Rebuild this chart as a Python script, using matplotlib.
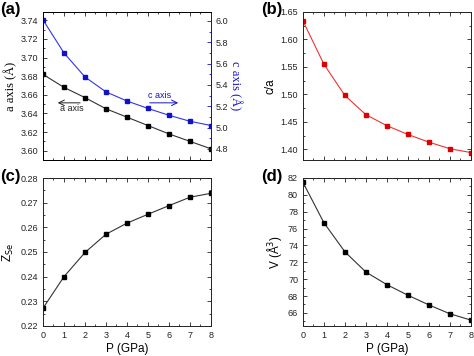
import numpy as np
import matplotlib
matplotlib.use('Agg')
from matplotlib import pyplot as plt
from matplotlib.ticker import MultipleLocator

# pressure points (GPa)
P = [0, 1, 2, 3, 4, 5, 6, 7, 8]
#lattice constants (A)
a_axis = [3.682, 3.668, 3.657, 3.645, 3.636, 3.627, 3.618, 3.610, 3.602]
c_axis = [6.01, 5.70, 5.475, 5.335, 5.25, 5.18, 5.116, 5.06, 5.02]
c_over_a = [1.634, 1.555, 1.498, 1.463, 1.443, 1.427, 1.413, 1.401, 1.394]
z_se = [0.2272, 0.2400, 0.2498, 0.2572, 0.2617, 0.2653, 0.2688, 0.2722, 0.2738]
volume = [81.5, 76.7, 73.25, 70.85, 69.35, 68.1, 66.95, 65.9, 65.15]

plt.rcParams['font.family'] = ['Liberation Sans', 'DejaVu Sans']
TICK = 6.5
LINE = '#333333'


def style(ax, ymaj, ymin, xlabels=True):
    ax.set_xlim(0, 8)
    ax.xaxis.set_major_locator(MultipleLocator(1))
    ax.xaxis.set_minor_locator(MultipleLocator(0.5))
    ax.yaxis.set_major_locator(MultipleLocator(ymaj))
    ax.yaxis.set_minor_locator(MultipleLocator(ymin))
    ax.tick_params(which='both', direction='in', top=True, right=True,
                   labelsize=TICK, width=0.6, colors='#222222')
    ax.tick_params(which='major', length=3)
    ax.tick_params(which='minor', length=1.6)
    if not xlabels:
        ax.tick_params(labelbottom=False)
    for s in ax.spines.values():
        s.set_linewidth(0.7)
        s.set_color('#222222')


fig = plt.figure(figsize=(4.74, 3.56), dpi=100)
W = 0.3544
H = 0.4157
ax_a = fig.add_axes([0.0907, 0.5506, W, H])
ax_b = fig.add_axes([0.639, 0.5506, W, H])
ax_c = fig.add_axes([0.0907, 0.0843, W, H])
ax_d = fig.add_axes([0.639, 0.0843, W, H])

#(a) a and c axes
ax_a.plot(P, a_axis, '-s', color=LINE, lw=0.8, ms=3, mfc='black', mec='black')
ax_a.set_ylim(3.59, 3.749)
style(ax_a, 0.02, 0.01, xlabels=False)
ax_a.tick_params(right=False, which='both')
ax_a.yaxis.set_major_formatter(matplotlib.ticker.FormatStrFormatter('%.2f'))
ax_a.set_ylabel('a axis (Å)', family=['Liberation Serif', 'DejaVu Serif'], fontsize=9, labelpad=2)

ax_a2 = ax_a.twinx()
ax_a2.plot(P, c_axis, '-s', color='#3333ee', lw=0.8, ms=3, mfc='#1111cc', mec='#1111cc')
ax_a2.set_ylim(4.697, 6.084)
ax_a2.yaxis.set_major_locator(MultipleLocator(0.2))
ax_a2.yaxis.set_minor_locator(MultipleLocator(0.1))
ax_a2.yaxis.set_major_formatter(matplotlib.ticker.FormatStrFormatter('%.1f'))
ax_a2.tick_params(which='both', direction='in', labelsize=TICK, width=0.6,
                  colors='#1111cc', labelcolor='#222222')
ax_a2.tick_params(which='major', length=3)
ax_a2.tick_params(which='minor', length=1.6)
for s in ax_a2.spines.values():
    s.set_linewidth(0.7)
ax_a2.spines['right'].set_color('#1111cc')
ax_a2.set_ylabel('c axis (Å)', color='#1111cc', family=['Liberation Serif', 'DejaVu Serif'],
                 fontsize=9, rotation=270, labelpad=10)

ax_a.annotate('', xy=(0.57, 3.6514), xytext=(1.9, 3.6514),
              arrowprops=dict(arrowstyle='->', color='#222222', lw=0.7))
ax_a.text(1.38, 3.6455, 'a axis', fontsize=6.5, ha='center', va='center', color='#222222')
ax_a.annotate('', xy=(6.57, 3.6514), xytext=(4.95, 3.6514),
              arrowprops=dict(arrowstyle='->', color='#1111cc', lw=0.7))
ax_a.text(5.57, 3.659, 'c axis', fontsize=6.5, ha='center', va='center', color='#1111cc')

#(b) c/a
ax_b.plot(P, c_over_a, '-s', color='#ee3333', lw=0.8, ms=3, mfc='#dd0000', mec='#dd0000')
ax_b.set_ylim(1.3805, 1.65)
style(ax_b, 0.05, 0.025, xlabels=False)
ax_b.yaxis.set_major_formatter(matplotlib.ticker.FormatStrFormatter('%.2f'))
ax_b.set_ylabel('c/a', fontsize=8.5, labelpad=3)

#(c) Z_Se
ax_c.plot(P, z_se, '-s', color=LINE, lw=0.8, ms=3, mfc='black', mec='black')
ax_c.set_ylim(0.22, 0.28)
style(ax_c, 0.01, 0.005)
ax_c.yaxis.set_major_formatter(matplotlib.ticker.FormatStrFormatter('%.2f'))
ax_c.set_ylabel('Z$_{\\mathrm{Se}}$', fontsize=8.5, labelpad=3)
ax_c.set_xlabel('P (GPa)', fontsize=8.5, labelpad=2)

#(d) volume
ax_d.plot(P, volume, '-s', color=LINE, lw=0.8, ms=3, mfc='black', mec='black')
ax_d.set_ylim(64.45, 82)
style(ax_d, 2, 1)
ax_d.set_ylabel('V (Å$^3$)', fontsize=8.5, labelpad=3)
ax_d.set_xlabel('P (GPa)', fontsize=8.5, labelpad=2)

#panel letters
for x, y, t in [(0.0, 0.972, '(a)'), (0.55, 0.972, '(b)'), (0.0, 0.505, '(c)'), (0.55, 0.505, '(d)')]:
    fig.text(x, y, t, fontsize=12, fontweight='bold', va='center', ha='left')

fig.savefig('out.png', dpi=100)
